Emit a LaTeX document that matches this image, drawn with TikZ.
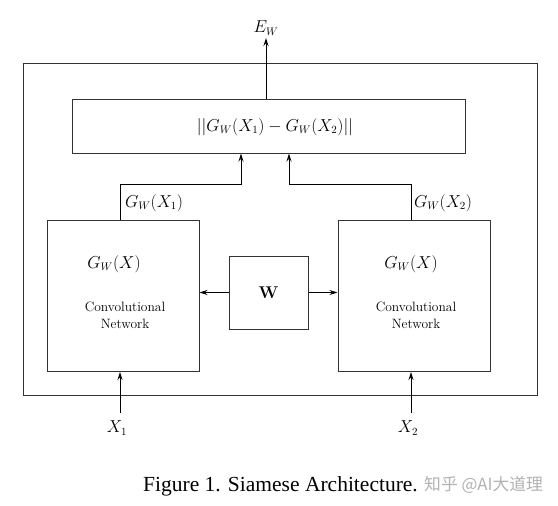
\documentclass[tikz,border=0pt]{standalone}
\usepackage{fontspec}
\usetikzlibrary{arrows.meta}
\newfontfamily\capfont{Liberation Serif}
\newfontfamily\cjkfont{Noto Sans CJK SC}
\begin{document}
\begin{tikzpicture}[x=1pt,y=-1pt,
  box/.style={draw=black!80,line width=1pt,inner sep=0pt},
  conn/.style={line width=1pt,-{Stealth[length=8pt,width=5pt]}},
  mathlbl/.style={font=\fontsize{16}{18}\selectfont,inner sep=0pt},
  txtlbl/.style={font=\fontsize{13.5}{17}\selectfont,align=center,inner sep=0pt}]
\useasboundingbox (0,0) rectangle (558,506);
% outer frame
\draw[box] (23,63) rectangle (537,395);
% boxes
\node[box,minimum width=393pt,minimum height=54pt] (diff) at (268.5,126) {};
\node[mathlbl] (difft) at (275,127) {$||G_W(X_1)-G_W(X_2)||$};
\node[box,minimum width=152pt,minimum height=151pt] (L) at (123,296) {};
\node[box,minimum width=152pt,minimum height=151pt] (R) at (414,296) {};
\node[box,minimum width=79pt,minimum height=73pt] (W) at (268.5,292.5) {};
\node[font=\fontsize{17}{20}\selectfont\bfseries] at (W.center) {W};
% texts inside
\node[mathlbl] at (114,264) {$G_W(X)$};
\node[txtlbl] at (125,315) {Convolutional\\Network};
\node[mathlbl] at (411,264) {$G_W(X)$};
\node[txtlbl] at (416,315) {Convolutional\\Network};
% W arrows
\draw[conn] (W.west) -- (L.east |- W.west);
\draw[conn] (W.east) -- (R.west |- W.east);
% output
\coordinate (top) at (266,38);
\draw[conn] (diff.north -| top) -- (top);
\node[mathlbl] (ew) at (266,28) {$E_W$};
% connectors up
\coordinate (a1) at (120,184);
\coordinate (a2) at (241,184);
\coordinate (b1) at (411,184);
\coordinate (b2) at (289,184);
\draw[conn] (L.north -| a1) -- (a1) -- (a2) -- (diff.south -| a2);
\draw[conn] (R.north -| b1) -- (b1) -- (b2) -- (diff.south -| b2);
\node[mathlbl] at (154,203) {$G_W(X_1)$};
\node[mathlbl] at (443,203) {$G_W(X_2)$};
% inputs
\coordinate (x1) at (120,413);
\coordinate (x2) at (411,413);
\draw[conn] (x1) -- (L.south -| x1);
\draw[conn] (x2) -- (R.south -| x2);
\node[mathlbl] at (117,428) {$X_1$};
\node[mathlbl] at (408,428) {$X_2$};
% caption
\node[anchor=base west,inner sep=0pt,font=\capfont\fontsize{21.5}{24}\selectfont] (cap) at (143,491) {Figure 1. Siamese Architecture.};
\node[anchor=base west,inner sep=0pt,text=black!30,font=\cjkfont\fontsize{16.8}{20}\selectfont] (wm) at (424,490) {知乎 @AI大道理};
\end{tikzpicture}
\end{document}
